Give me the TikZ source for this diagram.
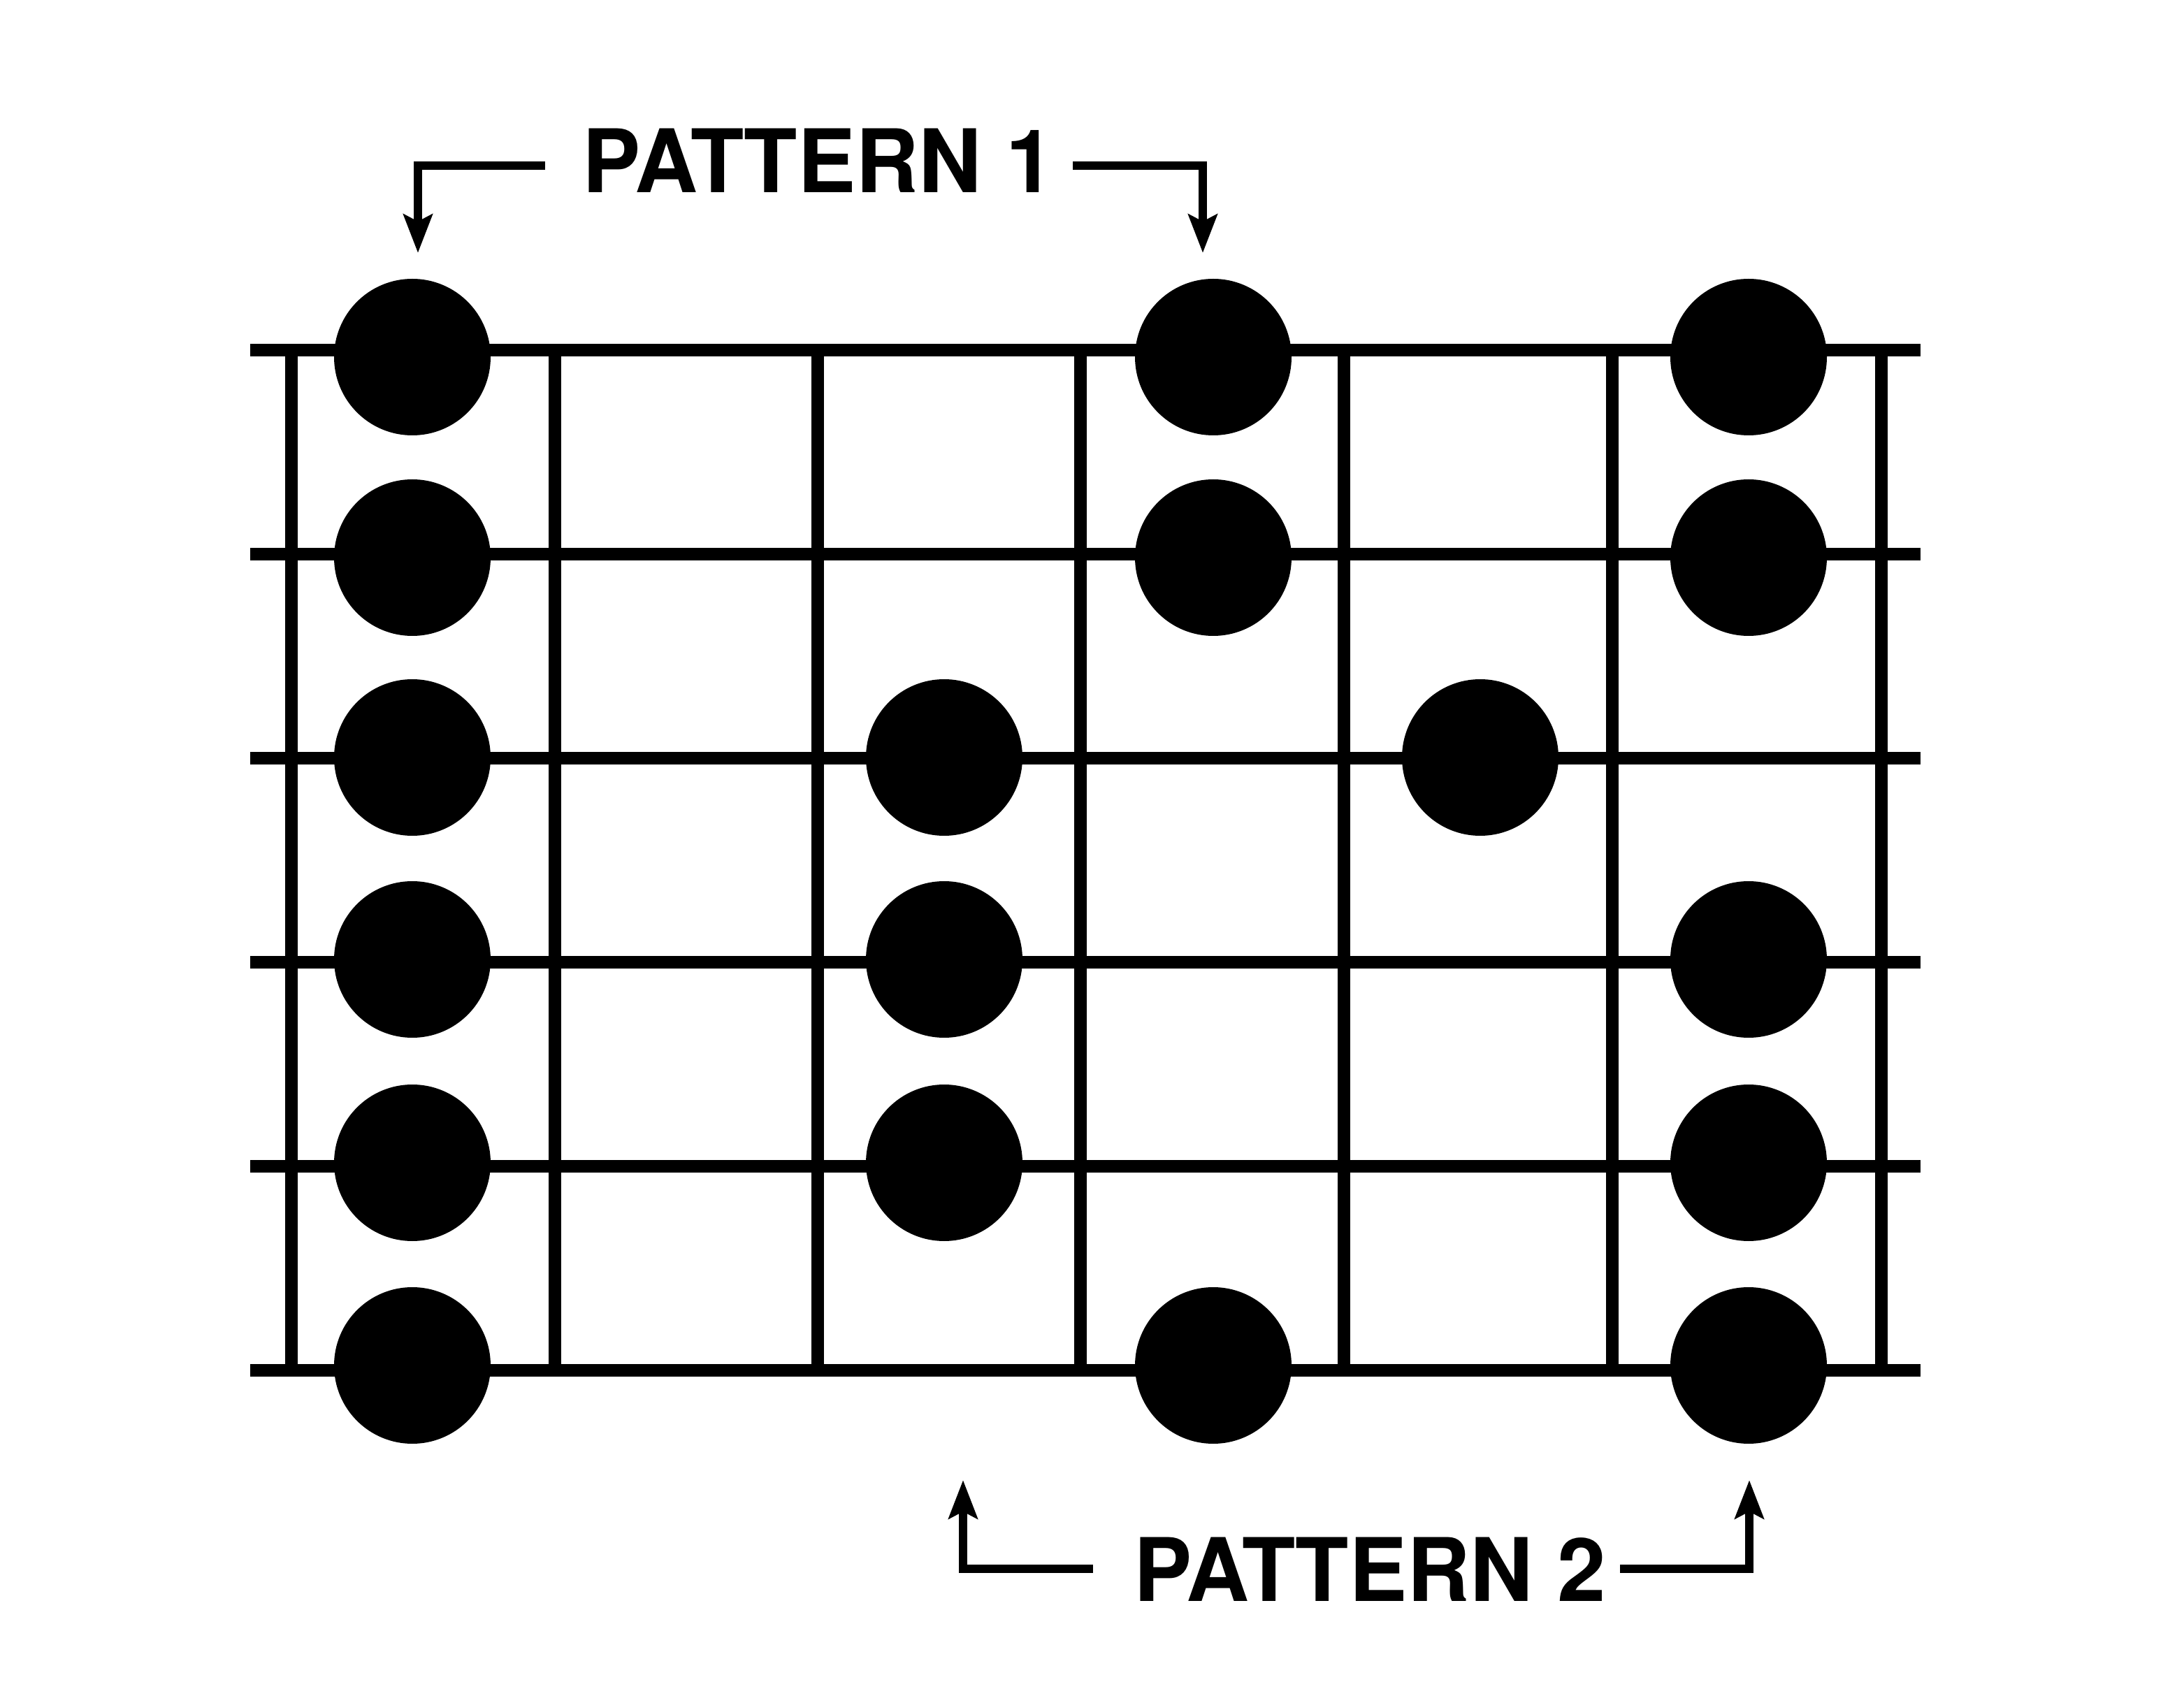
\documentclass[tikz,border=0pt]{standalone}
\usepackage{fontspec}
\setmainfont{TeX Gyre Heros}
\usetikzlibrary{arrows.meta}

\begin{document}
\begin{tikzpicture}[y=-1cm, line width=0.18cm,
    patlabel/.style={font=\bfseries\fontsize{35.7}{36}\selectfont, inner sep=0pt, xscale=0.995},
    bracket/.style={line width=0.12cm, line join=miter, -{Stealth[length=0.55cm, width=0.41cm, inset=0.1cm]}}]
    \useasboundingbox (0,0) rectangle (31.25,24.17);
    % strings and frets
    \foreach \y in {5.01,7.93,10.85,13.77,16.69,19.61}
        \draw (3.58,\y) -- (27.48,\y);
    \foreach \x in {4.17,7.94,11.70,15.46,19.23,23.07,26.92}
        \draw (\x,5.01) -- (\x,19.61);
    % finger dots
    \foreach \x/\y in {5.90/5.11, 5.90/7.98, 5.90/10.84, 5.90/13.73, 5.90/16.64, 5.90/19.54,
                       13.51/10.84, 13.51/13.73, 13.51/16.64,
                       17.36/5.11, 17.36/7.98, 17.36/19.54,
                       21.18/10.84,
                       25.02/5.11, 25.02/7.98, 25.02/13.73, 25.02/16.64, 25.02/19.54}
        \fill (\x,\y) circle (1.12);
    % pattern labels
    \node[patlabel] (p1) at (11.71,2.30) {PATTERN 1};
    \node[patlabel] (p2) at (19.60,22.46) {PATTERN 2};
    \coordinate (p1l) at (7.80,2.37); \coordinate (p1r) at (15.35,2.37);
    \coordinate (p2l) at (15.64,22.45); \coordinate (p2r) at (23.18,22.45);
    \coordinate (t1l) at (5.98,3.62); \coordinate (t1r) at (17.21,3.62);
    \coordinate (t2l) at (13.78,21.18); \coordinate (t2r) at (25.03,21.18);
    \draw[bracket] (p1l) -| (t1l);
    \draw[bracket] (p1r) -| (t1r);
    \draw[bracket] (p2l) -| (t2l);
    \draw[bracket] (p2r) -| (t2r);
\end{tikzpicture}
\end{document}
